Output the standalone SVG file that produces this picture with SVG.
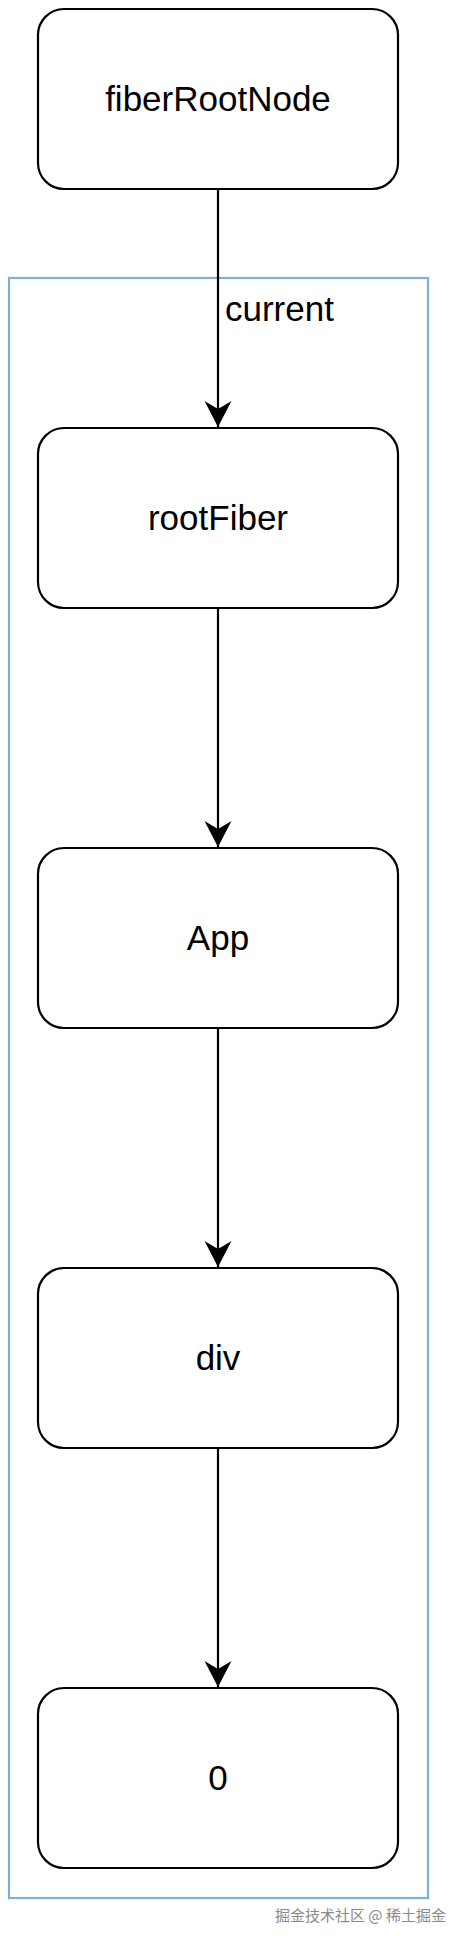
<svg xmlns="http://www.w3.org/2000/svg" width="471" height="1941" viewBox="0 0 471 1941">
<style>
.node rect{fill:#ffffff;stroke:#000000;stroke-width:2.2}
.node text{font-family:"Liberation Sans",Arial,sans-serif;font-size:35px;fill:#000000;text-anchor:middle}
.edge{stroke:#000000;stroke-width:2.2;fill:none}
.lbl{font-family:"Liberation Sans",Arial,sans-serif;font-size:35px;fill:#000000}
</style>
<defs>
<marker id="arr" markerUnits="userSpaceOnUse" markerWidth="30" markerHeight="30" refX="26" refY="13.5" orient="auto">
<path d="M26,13.5 L0,0 L8,13.5 L0,27 Z" fill="#000000"/>
</marker>
</defs>
<rect id="container" x="9" y="278" width="419" height="1620" fill="none" stroke="#7eb0d5" stroke-width="2.2"/>
<g id="connectors">
<line class="edge" x1="218" y1="189" x2="218" y2="427" marker-end="url(#arr)"/>
<text class="lbl" x="225" y="321">current</text>
<line class="edge" x1="218" y1="608" x2="218" y2="847" marker-end="url(#arr)"/>
<line class="edge" x1="218" y1="1028" x2="218" y2="1267" marker-end="url(#arr)"/>
<line class="edge" x1="218" y1="1448" x2="218" y2="1687" marker-end="url(#arr)"/>
</g>
<g id="fiberRootNode" class="node"><rect x="38" y="9" width="360" height="180" rx="26" ry="26"/><text x="218" y="111">fiberRootNode</text></g>
<g id="rootFiber" class="node"><rect x="38" y="428" width="360" height="180" rx="26" ry="26"/><text x="218" y="530">rootFiber</text></g>
<g id="App" class="node"><rect x="38" y="848" width="360" height="180" rx="26" ry="26"/><text x="218" y="950">App</text></g>
<g id="div" class="node"><rect x="38" y="1268" width="360" height="180" rx="26" ry="26"/><text x="218" y="1370">div</text></g>
<g id="zero" class="node"><rect x="38" y="1688" width="360" height="180" rx="26" ry="26"/><text x="218" y="1790">0</text></g>
<text x="275" y="1921" font-family="'Noto Sans CJK SC',sans-serif" font-size="15" fill="#8a8a8a">掘金技术社区 @ 稀土掘金</text>
</svg>
